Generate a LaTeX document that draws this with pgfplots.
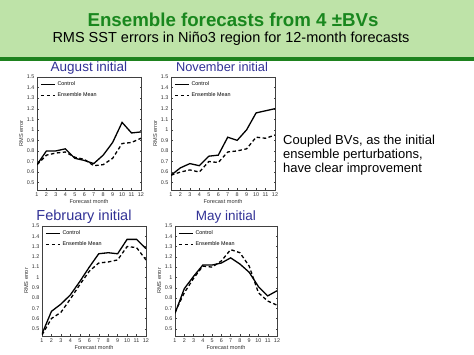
\documentclass[border=0pt]{standalone}
\usepackage{fontspec}
\setmainfont{Liberation Sans}
\usepackage{pgfplots}
\usepackage{pgfplotstable}
\pgfplotsset{compat=1.18}
\definecolor{hdrbg}{RGB}{190,227,168}
\definecolor{hdrline}{RGB}{30,130,30}
\definecolor{hdrgreen}{RGB}{25,135,30}
\definecolor{ttlblue}{RGB}{50,50,150}

\pgfplotstableread{
m ctrl ens
1 0.67 0.67
2 0.80 0.76
3 0.80 0.78
4 0.82 0.79
5 0.73 0.74
6 0.71 0.72
7 0.68 0.66
8 0.76 0.67
9 0.88 0.73
10 1.07 0.87
11 0.97 0.88
12 0.98 0.92
}\augdata
\pgfplotstableread{
m ctrl ens
1 0.57 0.57
2 0.64 0.60
3 0.68 0.62
4 0.66 0.60
5 0.75 0.70
6 0.76 0.69
7 0.93 0.79
8 0.90 0.80
9 1.00 0.82
10 1.16 0.93
11 1.18 0.92
12 1.20 0.95
}\novdata
\pgfplotstableread{
m ctrl ens
1 0.45 0.44
2 0.67 0.60
3 0.74 0.66
4 0.83 0.79
5 0.96 0.93
6 1.10 1.06
7 1.23 1.14
8 1.24 1.15
9 1.23 1.17
10 1.37 1.30
11 1.37 1.29
12 1.28 1.17
}\febdata
\pgfplotstableread{
m ctrl ens
1 0.65 0.66
2 0.89 0.85
3 1.01 0.99
4 1.12 1.11
5 1.12 1.10
6 1.14 1.16
7 1.19 1.27
8 1.13 1.24
9 1.05 1.11
10 0.91 0.85
11 0.82 0.77
12 0.87 0.73
}\maydata

\pgfplotsset{
  panel/.style={
    scale only axis, width=104pt, height=113pt,
    xmin=1, xmax=12, ymin=0.43, ymax=1.5,
    xtick={1,2,3,4,5,6,7,8,9,10,11,12},
    ytick={0.5,0.6,0.7,0.8,0.9,1,1.1,1.2,1.3,1.4,1.5},
    tick align=inside, major tick length=1.5pt,
    tick style={black!75, line width=0.3pt},
    axis line style={black!75, line width=0.4pt},
    tick label style={font=\fontsize{5.4}{6}\selectfont, text=black!80},
    /pgf/number format/assume math mode=true,
    xlabel={Forecast month}, ylabel={RMS error},
    label style={font=\fontsize{5.6}{6}\selectfont, text=black!80},
    xlabel style={yshift=3.5pt}, ylabel style={yshift=-3pt},
    xticklabel style={yshift=1.2pt}, yticklabel style={xshift=1pt},
    legend style={draw=none, fill=none, at={(0.02,0.985)}, anchor=north west,
      font=\fontsize{5.4}{6}\selectfont, row sep=1.5pt, inner sep=1pt,
      cells={anchor=west}},
    legend image code/.code={\draw[#1] (0pt,0pt) -- (14pt,0pt);},
  },
  ctrl/.style={black, line width=1.3pt, no markers},
  ens/.style={black, line width=1.3pt, no markers, dash pattern=on 3.5pt off 2.5pt},
}

\begin{document}
\begin{tikzpicture}
\path[use as bounding box] (0pt,0pt) rectangle (474pt,355pt);
\fill[white] (0pt,0pt) rectangle (474pt,355pt);
\fill[hdrbg] (0pt,298pt) rectangle (474pt,355pt);
\fill[hdrline] (0pt,294pt) rectangle (474pt,298pt);
\node[anchor=base, inner sep=0pt, font=\bfseries\fontsize{18.7}{20}\selectfont, text=hdrgreen]
  at (233pt,328pt) {Ensemble forecasts from 4 ±BVs};
\node[anchor=base, inner sep=0pt, font=\fontsize{14.5}{16}\selectfont, text=black]
  at (231pt,312pt) {RMS SST errors in Niño3 region for 12-month forecasts};

\node[anchor=base, inner sep=0pt, font=\fontsize{13.5}{15}\selectfont, text=ttlblue] at (89pt,283pt) {August initial};
\node[anchor=base, inner sep=0pt, font=\fontsize{12.8}{15}\selectfont, text=ttlblue] at (222pt,283pt) {November initial};
\node[anchor=base, inner sep=0pt, font=\fontsize{14.5}{15}\selectfont, text=ttlblue] at (84pt,134pt) {February initial};
\node[anchor=base, inner sep=0pt, font=\fontsize{13.5}{15}\selectfont, text=ttlblue] at (226pt,134pt) {May initial};

\node[anchor=base west, inner sep=0pt, font=\fontsize{13}{15}\selectfont] at (283pt,210pt) {Coupled BVs, as the initial};
\node[anchor=base west, inner sep=0pt, font=\fontsize{13}{15}\selectfont] at (283pt,196pt) {ensemble perturbations,};
\node[anchor=base west, inner sep=0pt, font=\fontsize{13}{15}\selectfont] at (283pt,182pt) {have clear improvement};

\begin{axis}[panel, at={(37pt,165pt)}, anchor=south west]
\addplot[ctrl] table[x=m,y=ctrl] {\augdata};
\addplot[ens] table[x=m,y=ens] {\augdata};
\legend{Control, Ensemble Mean}
\end{axis}
\begin{axis}[panel, at={(171pt,165pt)}, anchor=south west]
\addplot[ctrl] table[x=m,y=ctrl] {\novdata};
\addplot[ens] table[x=m,y=ens] {\novdata};
\legend{Control, Ensemble Mean}
\end{axis}
\begin{axis}[panel, height=110pt, at={(42pt,19pt)}, anchor=south west]
\addplot[ctrl] table[x=m,y=ctrl] {\febdata};
\addplot[ens] table[x=m,y=ens] {\febdata};
\legend{Control, Ensemble Mean}
\end{axis}
\begin{axis}[panel, height=110pt, width=102pt, at={(175pt,19pt)}, anchor=south west]
\addplot[ctrl] table[x=m,y=ctrl] {\maydata};
\addplot[ens] table[x=m,y=ens] {\maydata};
\legend{Control, Ensemble Mean}
\end{axis}
\end{tikzpicture}
\end{document}
